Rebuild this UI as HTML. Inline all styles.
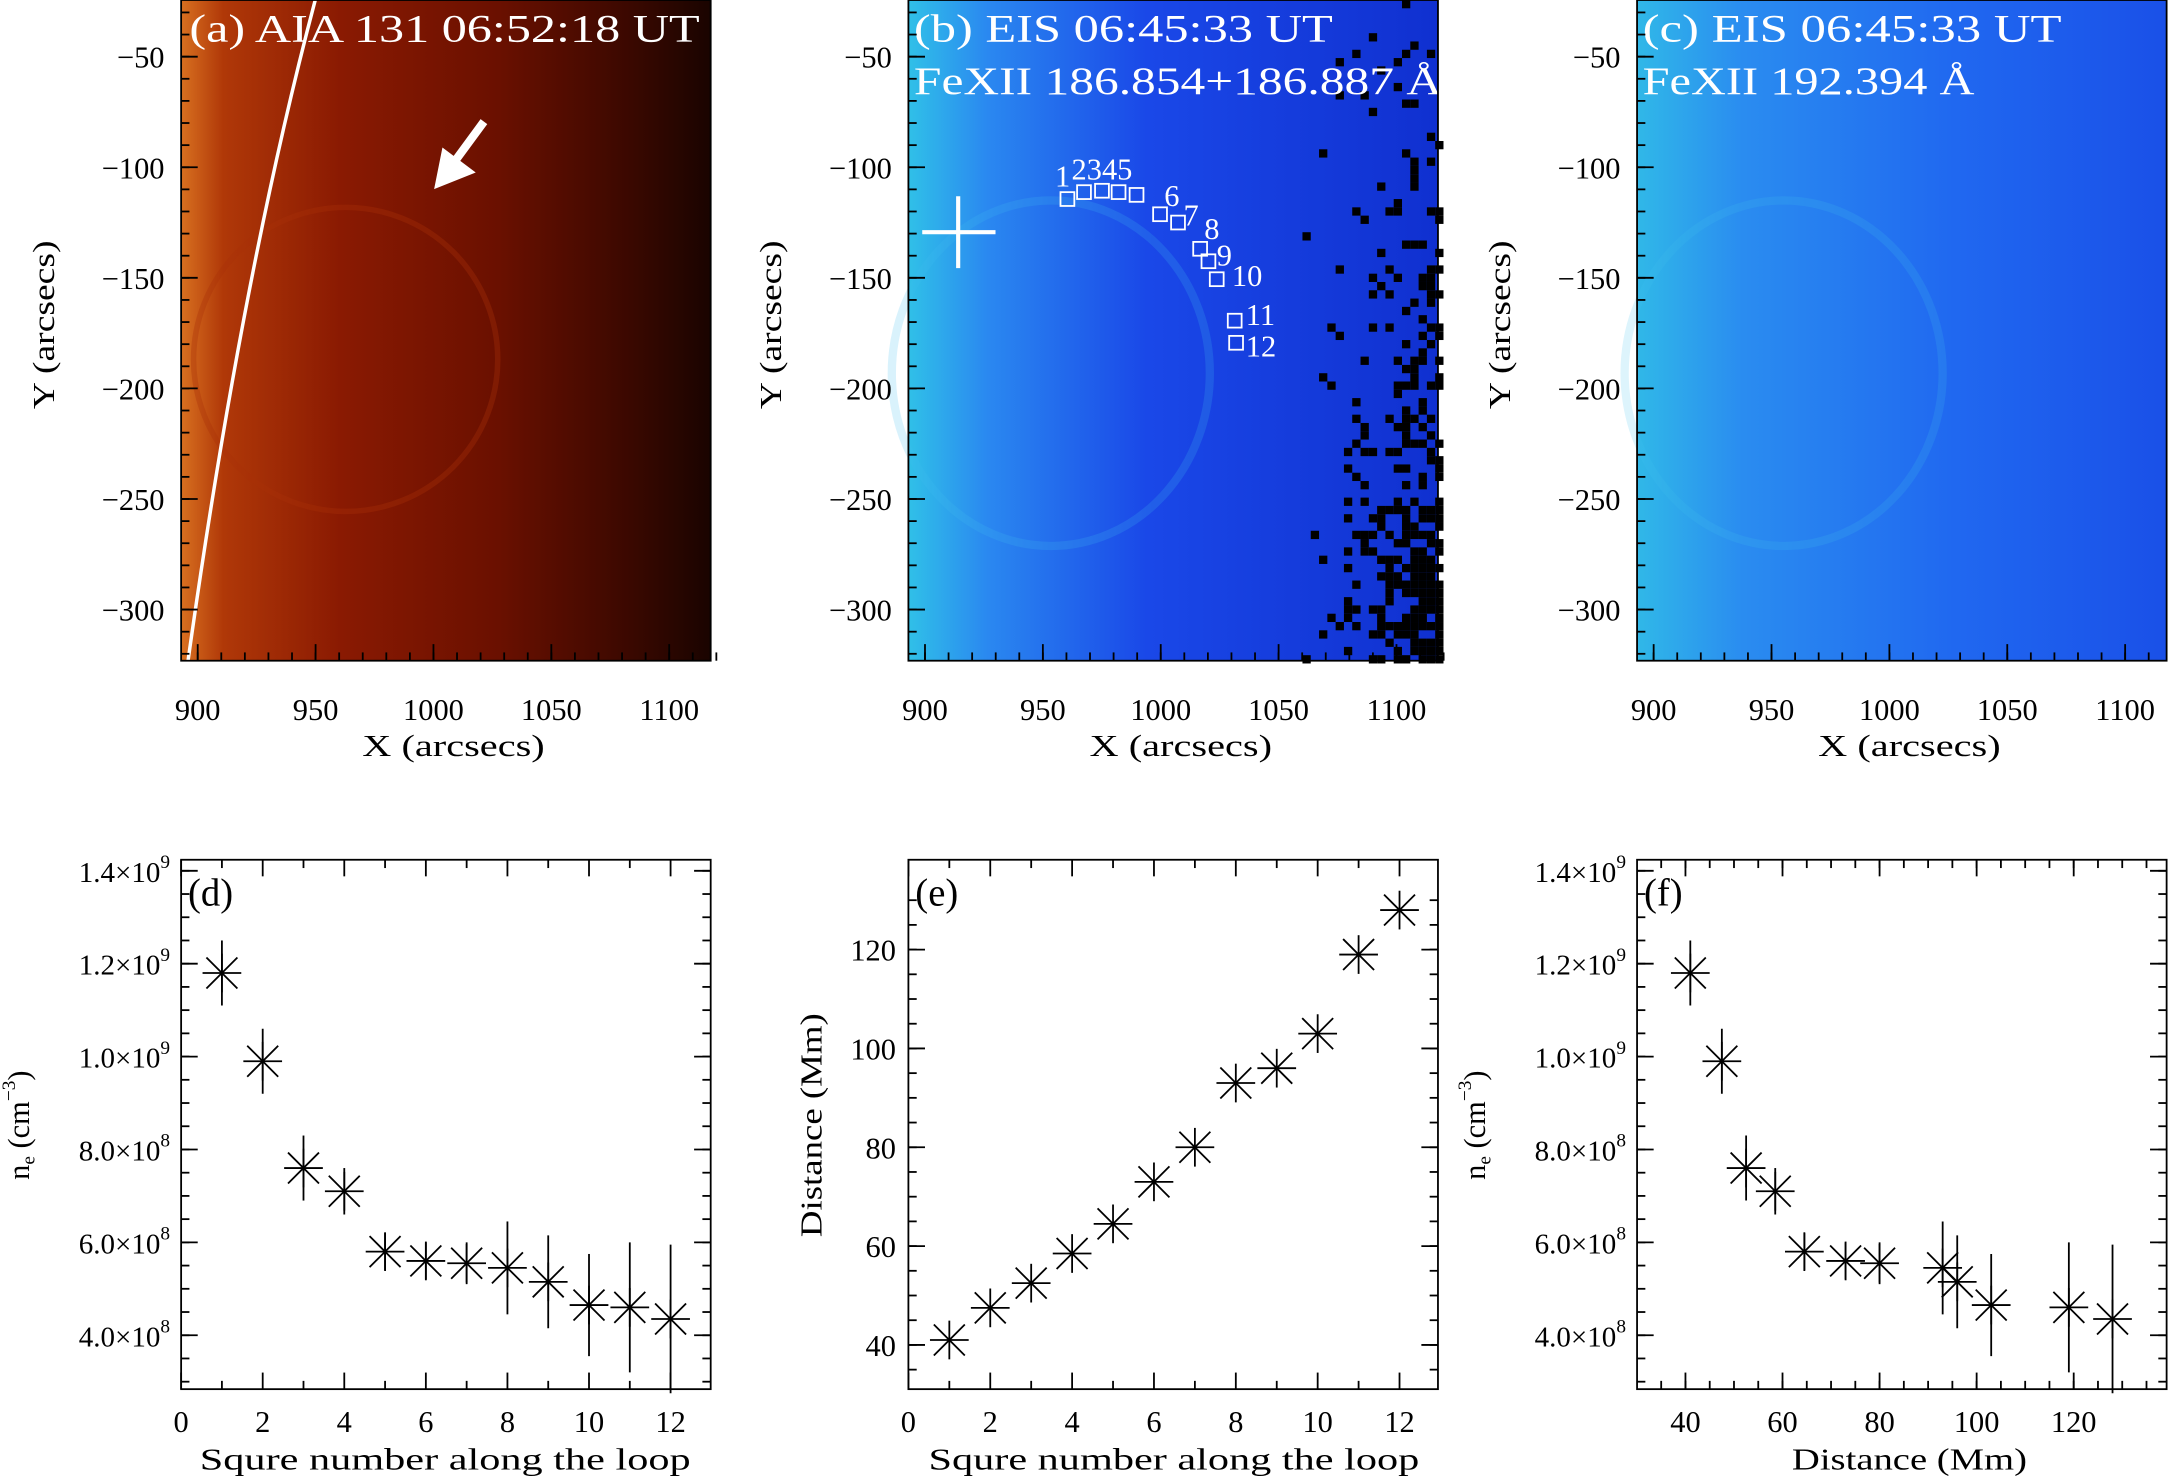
<!DOCTYPE html>
<html><head><meta charset="utf-8"><style>html,body{margin:0;padding:0;background:#fff}svg{display:block}</style></head>
<body>
<svg id="s" xmlns="http://www.w3.org/2000/svg" width="2168" height="1479" viewBox="0 0 1568 1070" preserveAspectRatio="none" font-family="Liberation Serif, serif">
<defs>
<linearGradient id="ga" x1="0" x2="1" y1="0" y2="0">
<stop offset="0" stop-color="#d87020"/><stop offset="0.08" stop-color="#b03808"/><stop offset="0.3" stop-color="#8a1a02"/><stop offset="0.6" stop-color="#6a1000"/><stop offset="0.85" stop-color="#3a0800"/><stop offset="1" stop-color="#1a0400"/></linearGradient>
<linearGradient id="gb" x1="0" x2="1"><stop offset="0" stop-color="#30c0e8"/><stop offset="0.15" stop-color="#2a88f0"/><stop offset="0.45" stop-color="#1a48e8"/><stop offset="1" stop-color="#1030d0"/></linearGradient>
<linearGradient id="gc" x1="0" x2="1"><stop offset="0" stop-color="#30b8e8"/><stop offset="0.2" stop-color="#2a8cf0"/><stop offset="0.6" stop-color="#2068f0"/><stop offset="1" stop-color="#1a50e8"/></linearGradient>
</defs>
<g id="g"></g>
</svg>
<script>
const g=document.getElementById('g');let h='';
const T=(x,y,t,a,sz,c,tl)=>h+=`<text x="${x}" y="${y}" font-size="${sz||22}" text-anchor="${a||'middle'}" fill="${c||'#000'}"${tl?` textLength="${tl}" lengthAdjust="spacingAndGlyphs"`:''}>${t}</text>`;
const L=(x1,y1,x2,y2,c,w)=>h+=`<line x1="${x1}" y1="${y1}" x2="${x2}" y2="${y2}" stroke="${c||'#000'}" stroke-width="${w||1.3}"/>`;
const tops=[[131,'url(#ga)'],[657,'url(#gb)'],[1184,'url(#gc)']];
tops.forEach(([x0,f],i)=>{
 h+=`<rect x="${x0}" y="0" width="383" height="478" fill="${f}"/>`;
});
// panel a extras
h+=`<ellipse cx="250" cy="260" rx="110" ry="110" fill="none" stroke="#a83008" stroke-width="4" opacity="0.35"/>`;
h+=`<path d="M136,478 Q175,200 228,0" fill="none" stroke="#fff" stroke-width="2.5"/>`;
h+=`<path d="M350,88 L328,118 M318,132 L322,112 L338,124 Z" stroke="#fff" stroke-width="6" fill="#fff"/>`;
T(137,30,'(a) AIA 131 06:52:18 UT','start',28,'#fff',369);
// panel b noise
let s=7;const r=()=>{s=(s*9301+49297)%233280;return s/233280};
for(let y=0;y<478;y+=6)for(let x=936;x<1041;x+=6){let fx=(x-936)/105;let p=Math.pow(fx,1.5)*(0.12+0.88*Math.pow(y/478,1.8));if(r()<p)h+=`<rect x="${x}" y="${y}" width="6" height="6" fill="#000"/>`;}
h+=`<ellipse cx="760" cy="270" rx="115" ry="125" fill="none" stroke="#40c0f0" stroke-width="6" opacity="0.2"/>`;
h+=`<ellipse cx="1290" cy="270" rx="115" ry="125" fill="none" stroke="#40c0f0" stroke-width="6" opacity="0.18"/>`;
L(667,168,720,168,'#fff',3);L(693,142,693,194,'#fff',3);
T(661,30,'(b) EIS 06:45:33 UT','start',28,'#fff',303);T(661,68,'FeXII 186.854+186.887 Å','start',28,'#fff',382);
T(1188,30,'(c) EIS 06:45:33 UT','start',28,'#fff',303);T(1188,68,'FeXII 192.394 Å','start',28,'#fff',240);
const sq=[[772,144],[784,139],[797,138],[809,139],[822,141],[839,155],[852,161],[868,180],[874,189],[880,202],[893,232],[894,248]];
sq.forEach(([x,y])=>h+=`<rect x="${x-5}" y="${y-5}" width="10" height="10" fill="none" stroke="#fff" stroke-width="1.3"/>`);
T(763,135,'1','start',22,'#fff');T(775,130,'2345','start',22,'#fff');T(842,149,'6','start',22,'#fff');T(856,163,'7','start',22,'#fff');
T(871,173,'8','start',22,'#fff');T(880,192,'9','start',22,'#fff');T(891,207,'10','start',22,'#fff');T(901,235,'11','start',22,'#fff');T(901,258,'12','start',22,'#fff');
tops.forEach(([x0,f],i)=>{
 const X=v=>x0+12+(v-900)*1.705, Y=v=>41+(-50-v)*1.6;
 h+=`<rect x="${x0}" y="0" width="383" height="478" fill="none" stroke="#000" stroke-width="1.3"/>`;
 for(let v=900;v<=1100;v+=50){L(X(v),478,X(v),466);T(X(v),521,v);}
 for(let v=900;v<=1120;v+=10){L(X(v),478,X(v),472);}
 for(let v=-50;v>=-300;v-=50){L(x0,Y(v),x0+12,Y(v));T(x0-12,Y(v)+8,'−'+(-v),'end');}
 for(let v=-30;v>=-320;v-=10){L(x0,Y(v),x0+6,Y(v));}
 T(x0+197,547,'X (arcsecs)','middle',22,'#000',132);
 h+=`<text transform="translate(${x0-92},235) rotate(-90)" font-size="22" text-anchor="middle" textLength="122" lengthAdjust="spacingAndGlyphs">Y (arcsecs)</text>`;
});
// bottom
const ne=[[1.18,.07],[.99,.07],[.76,.07],[.71,.05],[.58,.04],[.56,.04],[.555,.045],[.545,.1],[.515,.1],[.465,.11],[.46,.14],[.435,.16]];
const dist=[41,47.5,52.5,58.5,64.5,73,80,93,96,103,119,128];
const star=(x,y)=>{const a=14;L(x-a,y,x+a,y);L(x,y-a,x,y+a);L(x-a*.8,y-a*.8,x+a*.8,y+a*.8);L(x-a*.8,y+a*.8,x+a*.8,y-a*.8);};
function frame(x0,label){h+=`<rect x="${x0}" y="622" width="383" height="383" fill="none" stroke="#000" stroke-width="1.3"/>`;T(x0+5,655,label,'start',28);}
const YN=v=>966-(v-0.4)*336;
function neAxis(x0){for(let v=4;v<=14;v+=2){const y=YN(v/10);L(x0,y,x0+12,y);L(x0+371,y,x0+383,y);T(x0-8,y+8,(v<10?v.toFixed(1):(v/10).toFixed(1))+'×10<tspan font-size="14" dy="-10">'+(v<10?8:9)+'</tspan>','end',21);}
 for(let v=3;v<=14;v+=0.5){const y=YN(v/10);if(y>622&&y<1005){L(x0,y,x0+6,y);L(x0+377,y,x0+383,y);}}
 h+=`<text transform="translate(${x0-110},814) rotate(-90)" font-size="22" text-anchor="middle">n<tspan font-size="14" dy="4">e</tspan><tspan dy="-4"> (cm</tspan><tspan font-size="14" dy="-10">−3</tspan><tspan dy="10">)</tspan></text>`;}
frame(131,'(d)');neAxis(131);
const XD=v=>131+v*29.5;
for(let v=0;v<=12;v+=2){L(XD(v),1005,XD(v),993);L(XD(v),622,XD(v),634);T(XD(v),1036,v);}
for(let v=1;v<12;v+=2){L(XD(v),1005,XD(v),999);L(XD(v),622,XD(v),628);}
T(322,1063,'Squre number along the loop','middle',22,'#000',355);
ne.forEach(([v,e],i)=>{const x=XD(i+1);star(x,YN(v));L(x,YN(v-e),x,YN(v+e));});
frame(657,'(e)');
const XE=v=>657+v*29.6, YE=v=>973-(v-40)*3.575;
for(let v=0;v<=12;v+=2){L(XE(v),1005,XE(v),993);L(XE(v),622,XE(v),634);T(XE(v),1036,v);}
for(let v=1;v<12;v+=2){L(XE(v),1005,XE(v),999);L(XE(v),622,XE(v),628);}
for(let v=40;v<=120;v+=20){L(657,YE(v),669,YE(v));L(1028,YE(v),1040,YE(v));T(648,YE(v)+8,v,'end');}
for(let v=30;v<=130;v+=5){const y=YE(v);if(y>622&&y<1005){L(657,y,663,y);L(1034,y,1040,y);}}
h+=`<text transform="translate(594,814) rotate(-90)" font-size="22" text-anchor="middle" textLength="162" lengthAdjust="spacingAndGlyphs">Distance (Mm)</text>`;
T(849,1063,'Squre number along the loop','middle',22,'#000',355);
dist.forEach((d,i)=>star(XE(i+1),YE(d)));
frame(1184,'(f)');neAxis(1184);
const XF=v=>1219+(v-40)*3.51;
for(let v=40;v<=120;v+=20){L(XF(v),1005,XF(v),993);L(XF(v),622,XF(v),634);T(XF(v),1036,v);}
for(let v=30;v<=140;v+=5){const x=XF(v);if(x>1184&&x<1567){L(x,1005,x,999);L(x,622,x,628);}}
T(1381,1063,'Distance (Mm)','middle',22,'#000',170);
ne.forEach(([v,e],i)=>{const x=XF(dist[i]);star(x,YN(v));L(x,YN(v-e),x,YN(v+e));});
g.innerHTML=h;
</script>
</body></html>
